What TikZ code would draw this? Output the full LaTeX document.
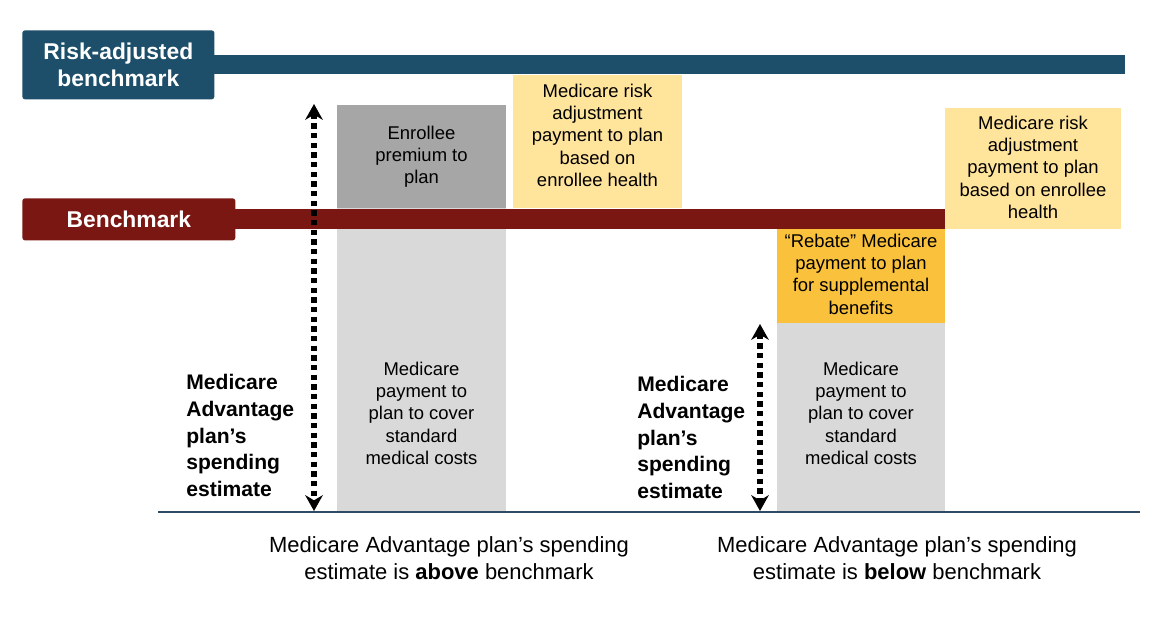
\documentclass[tikz,border=0pt]{standalone}
\usepackage{fontspec}
\setmainfont{Liberation Sans}
\usetikzlibrary{arrows.meta}
\definecolor{teal}{HTML}{1D4F6A}
\definecolor{darkred}{HTML}{7A1712}
\definecolor{midgray}{HTML}{A6A6A6}
\definecolor{lightgray}{HTML}{D9D9D9}
\definecolor{paleyellow}{HTML}{FFE49C}
\definecolor{amber}{HTML}{F9C13C}
\definecolor{baseblue}{HTML}{2F4A63}
\tikzset{
  block/.style={anchor=north west,inner sep=0pt},
  boxtext/.style={anchor=north,inner sep=0pt,align=center,font=\fontsize{10.5}{12.6}\selectfont},
  tag/.style={fill=#1,rounded corners=1.5pt,text=white,font=\fontsize{13}{15.5}\selectfont\bfseries,align=center,inner sep=0pt,anchor=north west},
  estimate/.style={anchor=north west,align=left,font=\fontsize{12}{15.2}\selectfont\bfseries,inner sep=0pt},
  caption/.style={align=center,font=\fontsize{12.5}{15.3}\selectfont,inner sep=0pt},
  dotarrow/.style={line width=3pt,dash pattern=on 3pt off 2.5pt,{Stealth[length=9pt,width=10pt]}-{Stealth[length=9pt,width=10pt]}}
}
\begin{document}
\begin{tikzpicture}[x=0.02cm,y=-0.02cm]
    \useasboundingbox (0,0) rectangle (1172,634);
    % left case
    \node[block,fill=lightgray,minimum width=169*0.02cm,minimum height=303*0.02cm] (stdA) at (337,208) {};
    \node[block,fill=midgray,minimum width=169*0.02cm,minimum height=103*0.02cm] (premA) at (337,105) {};
    \node[block,fill=paleyellow,minimum width=169*0.02cm,minimum height=133*0.02cm] (riskA) at (513,75) {};
    % right case
    \node[block,fill=lightgray,minimum width=168*0.02cm,minimum height=188*0.02cm] (stdB) at (777,323) {};
    \node[block,fill=amber,minimum width=168*0.02cm,minimum height=94*0.02cm] (rebB) at (777,229) {};
    \node[block,fill=paleyellow,minimum width=176*0.02cm,minimum height=121*0.02cm] (riskB) at (945,108) {};
    % bars
    \fill[teal] (200,55) rectangle (1125,74);
    \fill[darkred] (220,209) rectangle (945,229);
    % box texts
    \node[boxtext] at (421.5,126) {Enrollee\\premium to\\plan};
    \node[boxtext] at (421.5,362) {Medicare\\payment to\\plan to cover\\standard\\medical costs};
    \node[boxtext] at (597.5,84) {Medicare risk\\adjustment\\payment to plan\\based on\\enrollee health};
    \node[boxtext] at (861,362) {Medicare\\payment to\\plan to cover\\standard\\medical costs};
    \node[boxtext] at (861,234) {``Rebate'' Medicare\\payment to plan\\for supplemental\\benefits};
    \node[boxtext] at (1033,116) {Medicare risk\\adjustment\\payment to plan\\based on enrollee\\health};
    % tags
    \node[tag=teal,minimum width=192*0.02cm,minimum height=69*0.02cm] (radj) at (22,30) {Risk-adjusted\\benchmark};
    \node[tag=darkred,minimum width=213*0.02cm,minimum height=42*0.02cm] (bench) at (22,198) {Benchmark};
    % baseline
    \coordinate (base0) at (158,512);
    \coordinate (base1) at (1140,512);
    \draw[baseblue,line width=0.8pt] (base0) -- (base1);
    % spending estimate arrows
    \coordinate (topA) at (314,104);
    \coordinate (botA) at (314,511);
    \coordinate (topB) at (760,324);
    \coordinate (botB) at (760,511);
    \draw[dotarrow] (topA) -- (botA);
    \draw[dotarrow] (topB) -- (botB);
    \node[estimate] (estA) at (186,374) {Medicare\\Advantage\\plan’s\\spending\\estimate};
    \node[estimate] (estB) at (637,376) {Medicare\\Advantage\\plan’s\\spending\\estimate};
    \node[caption] (capA) at (449,558) {Medicare Advantage plan’s spending\\estimate is \textbf{above} benchmark};
    \node[caption] (capB) at (897,558) {Medicare Advantage plan’s spending\\estimate is \textbf{below} benchmark};
\end{tikzpicture}
\end{document}
